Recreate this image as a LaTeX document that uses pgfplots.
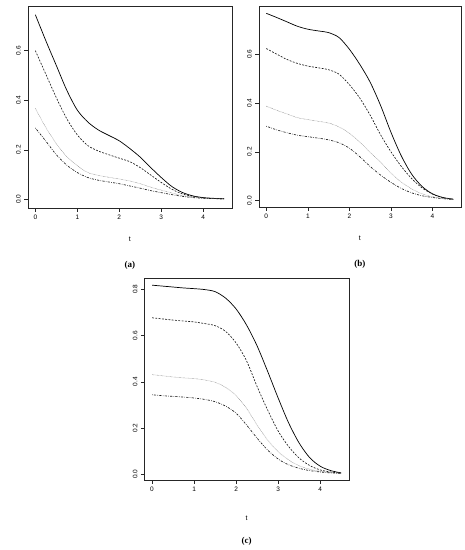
\documentclass[border=0pt]{standalone}
\usepackage{pgfplots}
\pgfplotsset{compat=1.18}
\usepackage{fontspec}
\setmainfont{Liberation Sans}
\newfontfamily\capfont{Liberation Serif}
\begin{document}
\pgfplotsset{
  rplot/.style={
    scale only axis,
    axis line style={black!85, line width=0.5pt},
    tick style={black!85, line width=0.5pt},
    tick align=outside,
    major tick length=3.5pt,
    xtick pos=left, ytick pos=left,
    xmin=-0.18, xmax=4.68,
    xtick={0,1,2,3,4},
    ticklabel style={font=\fontsize{6.5}{7.5}\selectfont},
    /pgf/number format/assume math mode=true,
    yticklabel style={rotate=90, anchor=south, /pgf/number format/.cd, fixed, fixed zerofill, precision=1},
    xticklabel style={anchor=north},
    xlabel={t},
    xlabel style={font=\fontsize{7}{8}\selectfont, at={(axis description cs:0.5,-0.155)}, anchor=center},
    title style={font=\capfont\bfseries\fontsize{9}{10}\selectfont, at={(axis description cs:0.5,-0.315)}, anchor=center},
  },
  s1/.style={black, line width=0.7pt, smooth},
  s2/.style={black!90, line width=0.65pt, dash pattern=on 1.9pt off 1.4pt, smooth},
  s3/.style={black!50, line width=0.5pt, dash pattern=on 0.5pt off 0.8pt, smooth},
  s4/.style={black!90, line width=0.65pt, dash pattern=on 0.6pt off 1.3pt on 2.2pt off 1.3pt, smooth},
}
\begin{tikzpicture}
\path[use as bounding box] (0,0) rectangle (462pt,-550pt);
% (a)
\begin{axis}[rplot, at={(25pt,-6pt)}, anchor=north west, width=204pt, height=202pt,
  ymin=-0.035, ymax=0.78, ytick={0,0.2,0.4,0.6}, title={(a)}]
\addplot[s1] coordinates {(0,0.745)(0.25,0.64)(0.5,0.54)(0.75,0.44)(1,0.36)(1.25,0.312)(1.5,0.28)(1.75,0.258)(2,0.236)(2.25,0.205)(2.5,0.17)(2.75,0.128)(3,0.088)(3.25,0.052)(3.5,0.028)(3.75,0.014)(4,0.007)(4.25,0.004)(4.5,0.002)};
\addplot[s2] coordinates {(0,0.6)(0.25,0.505)(0.5,0.41)(0.75,0.325)(1,0.26)(1.25,0.217)(1.5,0.195)(1.75,0.18)(2,0.166)(2.25,0.152)(2.5,0.128)(2.75,0.098)(3,0.068)(3.25,0.041)(3.5,0.022)(3.75,0.012)(4,0.006)(4.25,0.003)(4.5,0.002)};
\addplot[s3] coordinates {(0,0.367)(0.25,0.29)(0.5,0.225)(0.75,0.172)(1,0.136)(1.25,0.108)(1.5,0.097)(1.75,0.089)(2,0.082)(2.25,0.074)(2.5,0.063)(2.75,0.049)(3,0.037)(3.25,0.026)(3.5,0.015)(3.75,0.009)(4,0.005)(4.25,0.003)(4.5,0.002)};
\addplot[s4] coordinates {(0,0.288)(0.25,0.235)(0.5,0.18)(0.75,0.138)(1,0.108)(1.25,0.088)(1.5,0.077)(1.75,0.07)(2,0.063)(2.25,0.054)(2.5,0.045)(2.75,0.035)(3,0.027)(3.25,0.019)(3.5,0.012)(3.75,0.007)(4,0.004)(4.25,0.003)(4.5,0.002)};
\end{axis}
% (b)
\begin{axis}[rplot, at={(256pt,-6pt)}, anchor=north west, width=202pt, height=201pt,
  ymin=-0.026, ymax=0.797, ytick={0,0.2,0.4,0.6}, title={(b)}]
\addplot[s1] coordinates {(0,0.767)(0.25,0.75)(0.5,0.732)(0.75,0.714)(1,0.702)(1.25,0.695)(1.5,0.688)(1.75,0.668)(2,0.62)(2.25,0.558)(2.5,0.485)(2.75,0.39)(3,0.28)(3.25,0.183)(3.5,0.108)(3.75,0.058)(4,0.028)(4.25,0.013)(4.5,0.006)};
\addplot[s2] coordinates {(0,0.623)(0.25,0.6)(0.5,0.578)(0.75,0.562)(1,0.551)(1.25,0.544)(1.5,0.536)(1.75,0.518)(2,0.475)(2.25,0.42)(2.5,0.35)(2.75,0.27)(3,0.2)(3.25,0.14)(3.5,0.09)(3.75,0.052)(4,0.027)(4.25,0.012)(4.5,0.006)};
\addplot[s3] coordinates {(0,0.387)(0.25,0.37)(0.5,0.355)(0.75,0.34)(1,0.332)(1.25,0.325)(1.5,0.318)(1.75,0.302)(2,0.276)(2.25,0.24)(2.5,0.198)(2.75,0.157)(3,0.113)(3.25,0.076)(3.5,0.048)(3.75,0.028)(4,0.016)(4.25,0.009)(4.5,0.005)};
\addplot[s4] coordinates {(0,0.305)(0.25,0.29)(0.5,0.278)(0.75,0.268)(1,0.262)(1.25,0.256)(1.5,0.249)(1.75,0.237)(2,0.215)(2.25,0.18)(2.5,0.14)(2.75,0.105)(3,0.075)(3.25,0.05)(3.5,0.032)(3.75,0.02)(4,0.013)(4.25,0.008)(4.5,0.005)};
\end{axis}
% (c)
\begin{axis}[rplot, at={(141.7pt,-278pt)}, anchor=north west, width=204.3pt, height=202.3pt,
  ymin=-0.026, ymax=0.849, ytick={0,0.2,0.4,0.6,0.8}, title={(c)},
  xlabel style={at={(axis description cs:0.5,-0.187)}},
  title style={at={(axis description cs:0.5,-0.33)}}]
\addplot[s1] coordinates {(0,0.818)(0.25,0.814)(0.5,0.81)(0.75,0.806)(1,0.803)(1.25,0.799)(1.5,0.79)(1.75,0.762)(2,0.715)(2.25,0.645)(2.5,0.555)(2.75,0.445)(3,0.33)(3.25,0.222)(3.5,0.135)(3.75,0.072)(4,0.035)(4.25,0.016)(4.5,0.006)};
\addplot[s2] coordinates {(0,0.677)(0.25,0.672)(0.5,0.667)(0.75,0.663)(1,0.659)(1.25,0.652)(1.5,0.643)(1.75,0.618)(2,0.568)(2.25,0.49)(2.5,0.379)(2.75,0.278)(3,0.187)(3.25,0.12)(3.5,0.07)(3.75,0.038)(4,0.019)(4.25,0.01)(4.5,0.005)};
\addplot[s3] coordinates {(0,0.431)(0.25,0.426)(0.5,0.421)(0.75,0.417)(1,0.414)(1.25,0.408)(1.5,0.398)(1.75,0.376)(2,0.34)(2.25,0.285)(2.5,0.213)(2.75,0.148)(3,0.098)(3.25,0.062)(3.5,0.037)(3.75,0.022)(4,0.013)(4.25,0.008)(4.5,0.004)};
\addplot[s4] coordinates {(0,0.344)(0.25,0.34)(0.5,0.337)(0.75,0.334)(1,0.33)(1.25,0.324)(1.5,0.314)(1.75,0.295)(2,0.264)(2.25,0.213)(2.5,0.156)(2.75,0.105)(3,0.066)(3.25,0.041)(3.5,0.026)(3.75,0.016)(4,0.01)(4.25,0.006)(4.5,0.004)};
\end{axis}
\end{tikzpicture}
\end{document}
